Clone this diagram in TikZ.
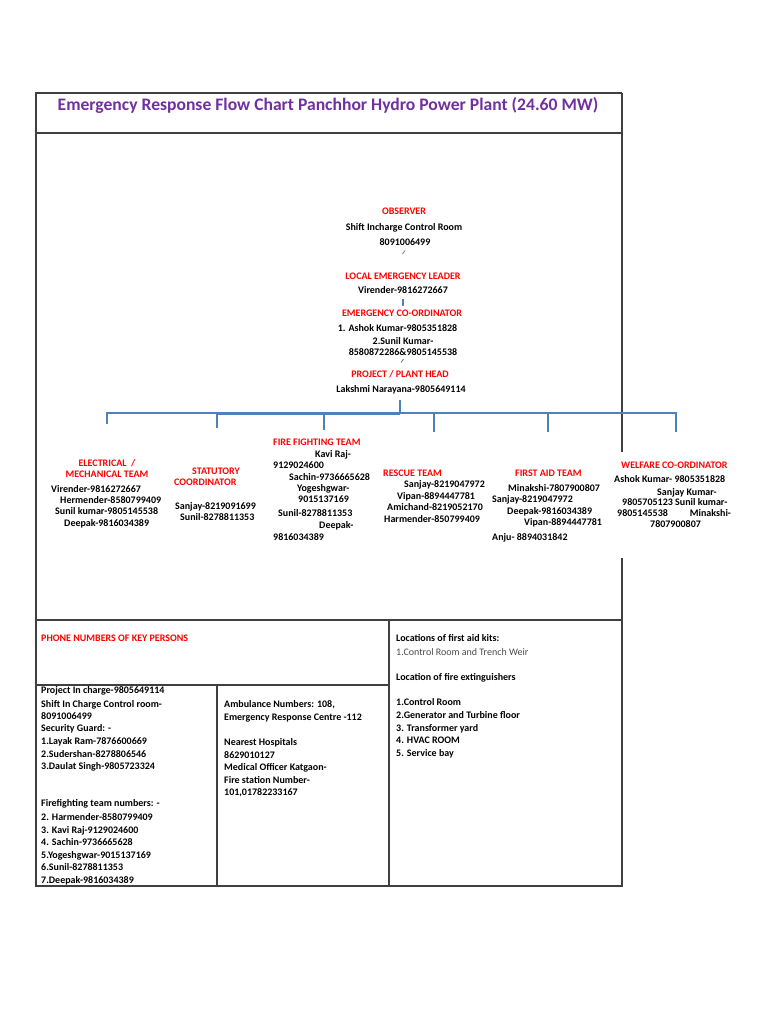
\documentclass[tikz,border=0pt]{standalone}
\usepackage{fontspec}
\setmainfont{Carlito}
\definecolor{titlepurple}{HTML}{7030A0}
\definecolor{alertred}{HTML}{FF0000}
\definecolor{linkblue}{HTML}{4F81BD}
\definecolor{framegray}{HTML}{404040}
\tikzset{lbl/.style = {font=\bfseries\fontsize{10}{12}\selectfont, inner sep=0pt, anchor=base west, yshift=-3.5pt}}
\tikzset{redlbl/.style = {lbl, text=alertred}}
\tikzset{ctrlbl/.style = {lbl, anchor=base}}
\tikzset{link/.style = {draw=linkblue, line width=1.3pt}}
\tikzset{frame/.style = {draw=framegray, line width=1.2pt}}

\begin{document}
\begin{tikzpicture}[x=1pt, y=-1pt]
        \fill[white] (0,0) rectangle (768,1024);
        \useasboundingbox (0,0) rectangle (768,1024);

        % frame
        \draw[frame] (622,93) -- (36,93) -- (36,886) -- (622,886) -- (622,558);
        \draw[frame] (622,93) -- (622,452);
        \draw[frame] (36,133) -- (622,133);
        \draw[frame] (36,620) -- (622,620);
        \draw[frame] (389,620) -- (389,886);
        \draw[frame] (36,685) -- (389,685);
        \draw[frame] (217,685) -- (217,886);

        \node[font=\bfseries\fontsize{17.6}{21}\selectfont, text=titlepurple, inner sep=0pt] (title) at (328,105) {Emergency Response Flow Chart Panchhor Hydro Power Plant (24.60 MW)};

        % chain of command
        \node[ctrlbl, text=alertred] (observer) at (404,211) {OBSERVER};
        \node[ctrlbl] (obs1) at (404,227) {Shift Incharge Control Room};
        \node[ctrlbl] (obs2) at (405,242) {8091006499};
        \node[ctrlbl, text=alertred] (leader) at (403,276) {LOCAL EMERGENCY LEADER};
        \node[ctrlbl] (leader1) at (403,290) {Virender-9816272667};
        \node[ctrlbl, text=alertred] (coord) at (402,313) {EMERGENCY CO-ORDINATOR};
        \node[ctrlbl] (coord1) at (397.5,328) {1. Ashok Kumar-9805351828};
        \node[ctrlbl] (coord2) at (403,341) {2.Sunil Kumar-};
        \node[ctrlbl] (coord3) at (403,352) {8580872286\&9805145538};
        \node[ctrlbl, text=alertred] (head) at (400,374) {PROJECT / PLANT HEAD};
        \node[ctrlbl] (head1) at (401,389) {Lakshmi Narayana-9805649114};

        \coordinate (m1a) at (402.5,254);
        \coordinate (m1b) at (405,250.5);
        \coordinate (m2a) at (403,306);
        \coordinate (m2b) at (403,299);
        \coordinate (m3a) at (401,362.5);
        \coordinate (m3b) at (403.5,359);
        \draw[link, line width=0.8pt] (m1a) -- (m1b);
        \draw[link] (m2a) -- (m2b);
        \draw[link, line width=0.8pt] (m3a) -- (m3b);

        % team bus
        \coordinate (hd) at (400,400);
        \coordinate (bus) at (400,413);
        \coordinate (d1) at (107,424);
        \coordinate (d2) at (217,428);
        \coordinate (d3) at (324,430);
        \coordinate (d4) at (434,432);
        \coordinate (d5) at (548,432);
        \coordinate (d6) at (676,432);
        \draw[link] (hd) -- (bus);
        \draw[link] (d1) -- (d1 |- bus) -- (d6 |- bus) -- (d6);
        \foreach \d in {d2,d3,d4,d5}
          \draw[link] (\d |- bus) -- (\d);
        \draw[link, line width=2.8pt] ([yshift=-0.8pt]d2 |- bus) -- ([yshift=-0.8pt]bus);

        % teams
        \node[ctrlbl, text=alertred] (elec) at (107,463) {ELECTRICAL~~/};
        \node[ctrlbl, text=alertred] (elec0) at (107,474) {MECHANICAL TEAM};
        \foreach \x/\y/\t [count=\i] in {51/489/Virender-9816272667, 60/500/Hermender-8580799409,
            55/511/Sunil kumar-9805145538, 64/523/Deepak-9816034389}
          \node[lbl] (elec-\i) at (\x,\y) {\t};

        \node[redlbl] (stat) at (192,471) {STATUTORY};
        \node[redlbl] (stat0) at (174,482) {COORDINATOR};
        \node[lbl] (stat-1) at (175,506) {Sanjay-8219091699};
        \node[lbl] (stat-2) at (180,517) {Sunil-8278811353};

        \node[redlbl] (fire) at (273,442) {FIRE FIGHTING TEAM};
        \foreach \x/\y/\t [count=\i] in {315/454/Kavi Raj-, 273/465/9129024600, 289/477/Sachin-9736665628,
            297/488/Yogeshgwar-, 298/499/9015137169, 278/513/Sunil-8278811353,
            319/525/Deepak-, 273/537/9816034389}
          \node[lbl] (fire-\i) at (\x,\y) {\t};

        \node[redlbl] (rescue) at (383,473) {RESCUE TEAM};
        \foreach \x/\y/\t [count=\i] in {404/484/Sanjay-8219047972, 397/496/Vipan-8894447781,
            387/507/Amichand-8219052170, 384/519/Harmender-850799409}
          \node[lbl] (rescue-\i) at (\x,\y) {\t};

        \node[redlbl] (aid) at (515,473) {FIRST AID TEAM};
        \foreach \x/\y/\t [count=\i] in {508/488/Minakshi-7807900807, 492/499/Sanjay-8219047972,
            507/511/Deepak-9816034389, 524/522/Vipan-8894447781, 492/537/Anju- 8894031842}
          \node[lbl] (aid-\i) at (\x,\y) {\t};

        \node[redlbl] (welfare) at (621,465) {WELFARE CO-ORDINATOR};
        \foreach \x/\y/\t [count=\i] in {614/479/Ashok Kumar- 9805351828, 657/492/Sanjay Kumar-,
            622/502/9805705123 Sunil kumar-, 617/513/9805145538\hspace{22pt}Minakshi-, 650/524/7807900807}
          \node[lbl] (welfare-\i) at (\x,\y) {\t};

        % key persons
        \node[redlbl] (phones) at (41,638) {PHONE NUMBERS OF KEY PERSONS};
        \foreach \y/\t [count=\i] in {690/Project In charge-9805649114, 704/Shift In Charge Control room-,
            716/8091006499, 728/Security Guard: -, 741/1.Layak Ram-7876600669, 754/2.Sudershan-8278806546,
            766/3.Daulat Singh-9805723324, 803/Firefighting team numbers: -, 817/2. Harmender-8580799409,
            830/3. Kavi Raj-9129024600, 842/4. Sachin-9736665628, 855/5.Yogeshgwar-9015137169,
            867/6.Sunil-8278811353, 880/7.Deepak-9816034389}
          \node[lbl] (key-\i) at (41,\y) {\t};
        \foreach \y/\t [count=\i] in {704/{Ambulance Numbers: 108,}, 717/Emergency Response Centre -112,
            742/Nearest Hospitals/Katgaon Numbers-, 755/8629010127, 767/Medical Officer Katgaon-,
            780/Fire station Number-, 792/{101,01782233167}}
          \node[lbl] (help-\i) at (224,\y) {\t};

        % locations
        \node[lbl] (kits) at (396,638) {Locations of first aid kits:};
        \node[lbl, font=\fontsize{10}{12}\selectfont, text=black!70] (kits-1) at (396,652) {1.Control Room and Trench Weir};
        \node[lbl] (ext) at (396,677) {Location of fire extinguishers};
        \foreach \y/\t [count=\i] in {702/1.Control Room, 715/2.Generator and Turbine floor,
            728/3. Transformer yard, 740/4. HVAC ROOM, 753/5. Service bay}
          \node[lbl] (ext-\i) at (396,\y) {\t};
      \end{tikzpicture}
\end{document}
